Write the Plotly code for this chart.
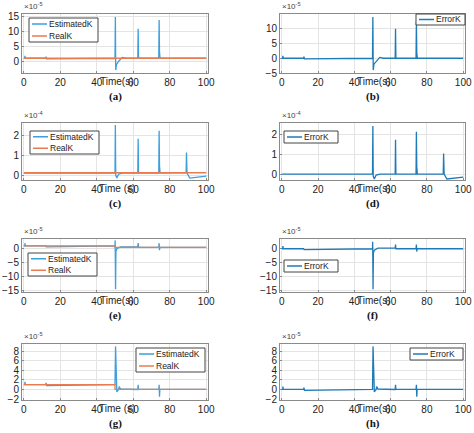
import plotly.graph_objects as go

# ---- data (values in units of the panel's exponent) ----
t_est_a = [0, 0.5, 0.6, 0.8, 12, 12.2, 12.5, 50, 50.2, 50.4, 50.8, 52, 54, 56, 62.5, 62.7, 62.9, 74, 74.2, 74.4, 74.7, 100]
est_a   = [1, 1, 1.8, 1, 1, 1.5, 0.8, 1, 15, -3, -1.2, 0, 1.3, 1, 1, 11, 1, 1, 14, 3.2, 1, 1]
t_real_a = [0, 100]
real_a = [1, 1]
t_err_b = [0, 0.5, 0.6, 0.8, 12, 12.2, 12.5, 50, 50.2, 50.4, 50.8, 52, 54, 56, 62.5, 62.7, 62.9, 74, 74.2, 74.4, 74.7, 100]
err_b   = [0, 0, 0.8, 0, 0, 0.5, -0.2, 0, 14, -4, -2, -1, 0.3, 0, 0, 10, 0, 0, 12.5, 2, 0, 0]

t_est_c = [0, 0.5, 0.7, 50, 50.2, 50.4, 51, 52, 54, 62.5, 62.7, 62.9, 74, 74.2, 74.4, 74.7, 89, 89.2, 89.5, 91, 95, 100]
est_c   = [0.1, 0.1, 0.12, 0.1, 2.55, 0.0, -0.15, 0.05, 0.1, 0.1, 1.85, 0.1, 0.1, 2.25, 0.5, 0.1, 0.12, 1.15, 0.1, -0.15, -0.12, -0.05]
t_real_c = [0, 100]
real_c = [0.12, 0.12]
t_err_d = t_est_c
err_d   = [0, 0, 0.02, 0, 2.45, -0.1, -0.25, -0.05, 0, 0, 1.75, 0, 0, 2.15, 0.4, 0, 0, 1.05, 0, -0.25, -0.22, -0.15]

t_est_e = [0, 0.5, 0.6, 0.8, 12, 12.3, 50, 50.1, 50.3, 50.5, 51, 52, 53, 62.5, 62.7, 62.9, 74, 74.2, 74.4, 74.6, 100]
est_e   = [1, 1, 2, 1, 1, 0.7, 1, 3, -14.5, -1, 0, 0.5, 0.7, 0.7, 2, 0.5, 0.5, 2, -0.5, 0.5, 0.5]
t_real_e = [0, 50, 50, 100]
real_e = [1, 1, 0.5, 0.5]
t_err_f = t_est_e
err_f   = [0, 0, 1, 0, 0, -0.3, 0, 2.5, -14.5, -1.5, -0.5, 0, 0.2, 0.2, 1.5, 0, 0, 1.5, -1, 0, 0]

t_est_g = [0, 0.5, 0.6, 0.8, 12, 12.2, 12.5, 50, 50.3, 50.6, 51, 52, 52.3, 53, 62.5, 62.7, 62.9, 74, 74.2, 74.4, 74.6, 100]
est_g   = [1, 1, 1.6, 1, 1, 1.4, 0.8, 1, 9, 1, -0.5, 0, 0.6, 0.1, 0, 1, 0, 0, 1, -1.5, 0, 0]
t_real_g = [0, 50, 50, 100]
real_g = [1, 1, 0, 0]
t_err_h = t_est_g
err_h   = [0, 0, 0.6, 0, 0, 0.4, -0.2, 0, 9, 1, -0.5, 0, 0.6, 0.1, 0, 1, 0, 0, 1, -1.5, 0, 0]

x_ticks = [0, 20, 40, 60, 80, 100]
exps = ["5", "5", "4", "4", "5", "5", "5", "5"]
labels = ["(a)", "(b)", "(c)", "(d)", "(e)", "(f)", "(g)", "(h)"]
time_labels = ["Time(s)", "Time(s)", "Time (s)", "Time(s)", "Time(s)", "Time(s)", "Time (s)", "Time(s)"]

C_EST = "#3d9fdc"
C_REAL = "#e87c4e"
C_ERR = "#1f7ab8"

W, H = 474, 433
cols = [(22, 208), (280, 465)]
rows = [(14, 73), (123, 180), (239, 292), (344, 400)]
yr = [(-4, 16), (-5, 15), (-0.25, 2.65), (-0.3, 2.6), (-15.5, 3.5), (-15.5, 3.5), (-2.2, 9.5), (-2.2, 9.5)]
ytk = [[0, 5, 10, 15], [-5, 0, 5, 10], [0, 1, 2], [0, 1, 2], [-15, -10, -5, 0], [-15, -10, -5, 0],
       [-2, 0, 2, 4, 6, 8], [-2, 0, 2, 4, 6, 8]]
# legend boxes in pixels: x0, y0, x1, y1
legbox = [(29, 18, 98, 42), (416, 14, 465, 25), (30, 131, 99, 154), (284, 131, 338, 143),
          (28, 253, 97, 276), (284, 260, 338, 272), (136, 348, 205, 372), (410, 348, 463, 360)]

panels = [
    [("EstimatedK", t_est_a, est_a, C_EST), ("RealK", t_real_a, real_a, C_REAL)],
    [("ErrorK", t_err_b, err_b, C_ERR)],
    [("EstimatedK", t_est_c, est_c, C_EST), ("RealK", t_real_c, real_c, C_REAL)],
    [("ErrorK", t_err_d, err_d, C_ERR)],
    [("EstimatedK", t_est_e, est_e, C_EST), ("RealK", t_real_e, real_e, C_REAL)],
    [("ErrorK", t_err_f, err_f, C_ERR)],
    [("EstimatedK", t_est_g, est_g, C_EST), ("RealK", t_real_g, real_g, C_REAL)],
    [("ErrorK", t_err_h, err_h, C_ERR)],
]

def px(x): return x / W
def py(y): return 1 - y / H

fig = go.Figure()
layout = {}
ann = []
shapes = []
for i, series in enumerate(panels):
    r, c = divmod(i, 2)
    x0, x1 = cols[c]
    y0, y1 = rows[r]
    n = "" if i == 0 else str(i + 1)
    for name, t, v, col in series:
        fig.add_trace(go.Scatter(x=t, y=v, name=name, mode="lines", line=dict(color=col, width=1.3),
                                 xaxis="x" + n, yaxis="y" + n, showlegend=False))
    common = dict(showgrid=True, gridcolor="#e4e4e4", showline=True, mirror=True, automargin=False,
                  linecolor="#8a8a8a", linewidth=1, ticks="inside", ticklen=2,
                  tickcolor="#8a8a8a", zeroline=False, tickfont=dict(size=10, color="#222"))
    layout["xaxis" + n] = dict(domain=[px(x0), px(x1)], anchor="y" + n, range=[-1, 101], tickvals=x_ticks, **common)
    layout["yaxis" + n] = dict(domain=[py(y1), py(y0)], anchor="x" + n, range=list(yr[i]),
                               tickvals=ytk[i], **common)
    bx0, by0, bx1, by1 = legbox[i]
    shapes.append(dict(type="rect", xref="paper", yref="paper", x0=px(bx0), x1=px(bx1), y0=py(by1), y1=py(by0),
                       fillcolor="white", line=dict(color="#444", width=1), layer="above"))
    k = len(series)
    step = (by1 - by0) / k
    for j, (name, _, _, col) in enumerate(series):
        yc = by0 + step * (j + 0.5)
        shapes.append(dict(type="line", xref="paper", yref="paper", x0=px(bx0 + 3), x1=px(bx0 + 18),
                           y0=py(yc), y1=py(yc), line=dict(color=col, width=1.5), layer="above"))
        ann.append(dict(x=px(bx0 + 19), y=py(yc), xref="paper", yref="paper", xanchor="left", yanchor="middle",
                        text=name, showarrow=False, borderpad=0, font=dict(size=8.5, color="#222")))
    ann.append(dict(x=px(x0), y=py(y0 - 1), xref="paper", yref="paper", xanchor="left", yanchor="bottom",
                    text="×10<sup>-" + exps[i] + "</sup>", showarrow=False, font=dict(size=8, color="#444")))
    ann.append(dict(x=px(x0 + (x1 - x0) * 0.51), y=py(y1 + 1), xref="paper", yref="paper",
                    xanchor="center", yanchor="top", text=time_labels[i], showarrow=False,
                    font=dict(size=10, color="#222")))
    ann.append(dict(x=px((x0 + x1) / 2), y=py(y1 + 15), xref="paper", yref="paper",
                    xanchor="center", yanchor="top", text="<b>" + labels[i] + "</b>", showarrow=False,
                    font=dict(size=11, color="#111", family="Liberation Serif")))

fig.update_layout(**layout)
fig.update_layout(width=W, height=H, margin=dict(l=0, r=0, t=0, b=0, autoexpand=False), paper_bgcolor="white",
                  plot_bgcolor="white", font=dict(family="Liberation Sans"), annotations=ann, shapes=shapes,
                  showlegend=False)
fig.write_html("out.html", config={"displayModeBar": False},
               post_script="document.body.style.margin='0';document.body.style.overflow='hidden';")
